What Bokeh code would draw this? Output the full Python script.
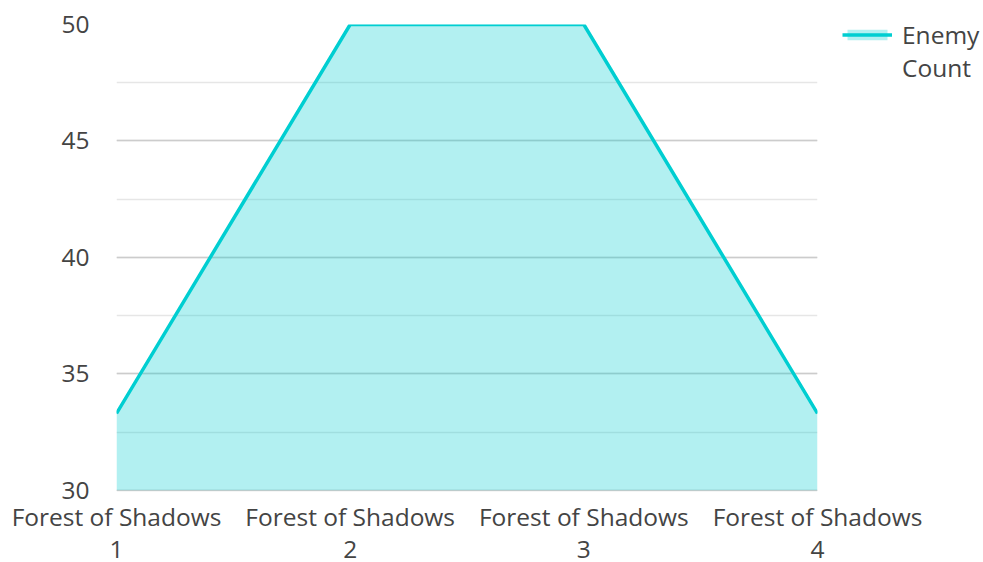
from bokeh.plotting import figure
from bokeh.models import Range1d, FixedTicker, SingleIntervalTicker, Legend, LegendItem, ColumnDataSource
from bokeh.embed import file_html
from bokeh.resources import INLINE

categories = ["Forest of Shadows 1", "Forest of Shadows 2", "Forest of Shadows 3", "Forest of Shadows 4"]
x_positions = [1, 2, 3, 4]
enemy_count = [33.3, 50, 50, 33.3]
series_name = "Enemy Count"

FONT = "Open Sans"
TEXT_COLOR = "#444444"
TEAL = "#00CED1"
FS = "24.5px"

src = ColumnDataSource(dict(x=x_positions, y=enemy_count, base=[30] * len(x_positions)))

p = figure(frame_width=701, frame_height=467, output_backend="svg", toolbar_location=None,
           x_range=Range1d(1, 4), y_range=Range1d(29.95, 50),
           min_border_left=116, min_border_right=166, min_border_top=24, min_border_bottom=71)
p.outline_line_color = None
p.background_fill_color = "white"
p.border_fill_color = "white"

area = p.varea(x="x", y1="base", y2="y", source=src, fill_color=TEAL, fill_alpha=0.3)
line = p.line(x="x", y="y", source=src, line_color=TEAL, line_width=3.5)
# invisible placeholder so the wrapped second line of the legend label has no swatch
blank = p.line(x=[], y=[], line_alpha=0)

# axes
p.xaxis.ticker = FixedTicker(ticks=x_positions)
p.xaxis.major_label_overrides = {x: c.rsplit(" ", 1)[0] + "\n" + c.rsplit(" ", 1)[1]
                                 for x, c in zip(x_positions, categories)}
p.yaxis.ticker = SingleIntervalTicker(interval=5, num_minor_ticks=2)
for ax in (p.xaxis[0], p.yaxis[0]):
    ax.axis_line_color = None
    ax.major_tick_line_color = None
    ax.minor_tick_line_color = None
    ax.major_tick_out = 0
    ax.minor_tick_out = 0
    ax.major_label_text_font = FONT
    ax.major_label_text_font_size = FS
    ax.major_label_text_color = TEXT_COLOR
p.xaxis.major_label_text_line_height = 0.97
p.xaxis.major_label_standoff = 8
p.yaxis.major_label_standoff = 27

p.xgrid.grid_line_color = None
p.ygrid.grid_line_color = "#cccccc"
p.ygrid.grid_line_width = 1.5
p.ygrid.minor_grid_line_color = "#e6e6e6"
p.ygrid.minor_grid_line_width = 1.5

words = series_name.split(" ")
legend = Legend(items=[LegendItem(label=words[0], renderers=[area, line]),
                       LegendItem(label=" ".join(words[1:]), renderers=[blank])],
                location=(25, 407), orientation="vertical",
                label_text_font=FONT, label_text_font_size=FS, label_text_color=TEXT_COLOR,
                glyph_width=50, glyph_height=13, label_standoff=10,
                border_line_color=None, background_fill_alpha=0,
                margin=0, padding=0, spacing=0)
legend.click_policy = "none"
p.add_layout(legend, "right")

open("out.html", "w").write(file_html(p, INLINE))
